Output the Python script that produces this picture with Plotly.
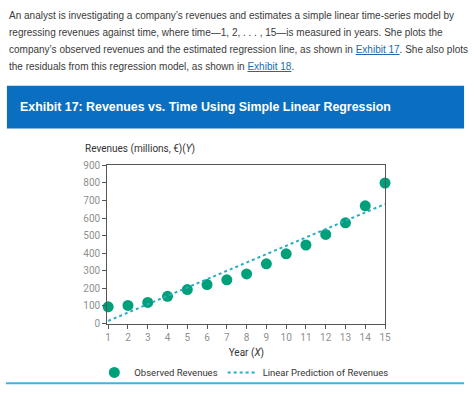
import plotly.graph_objects as go

W, H = 474, 394

years = list(range(1, 16))
revenues = [95, 103, 120, 155, 193, 222, 249, 282, 340, 397, 447, 507, 573, 670, 800]
pred_x = [1, 15]
pred_y = [15, 680]
y_ticks = [0, 100, 200, 300, 400, 500, 600, 700, 800, 900]

para_lines = [
    "An analyst is investigating a company\u2019s revenues and estimates a simple linear time-series model by",
    "regressing revenues against time, where time\u20141, 2, . . . , 15\u2014is measured in years. She plots the",
    "company\u2019s observed revenues and the estimated regression line, as shown in <span style='color:#2367b4'><u>Exhibit 17</u></span>. She also plots",
    "the residuals from this regression model, as shown in <span style='color:#2367b4'><u>Exhibit 18</u></span>.",
]
banner_title = "Exhibit 17: Revenues vs. Time Using Simple Linear Regression"

def px(x):
    return x / W

def py(y):
    return 1 - y / H

CH = "Roboto, Noto Sans, sans-serif"

fig = go.Figure()
fig.add_trace(go.Scatter(
    x=years, y=revenues, mode="markers", name="Observed Revenues",
    marker=dict(color="#00a07b", size=11, line=dict(width=0)),
    cliponaxis=False,
))
fig.add_trace(go.Scatter(
    x=pred_x, y=pred_y, mode="lines", name="Linear Prediction of Revenues",
    line=dict(color="#2aaac4", width=2, dash="dot"),
))

axis_font = dict(family=CH, size=10, color="#909090")
fig.update_layout(
    width=W, height=H,
    margin=dict(l=0, r=0, t=0, b=0),
    paper_bgcolor="white", plot_bgcolor="white",
    showlegend=True,
    legend=dict(
        orientation="h", x=0.52, xanchor="center", y=py(377), yanchor="middle",
        font=dict(family=CH, size=9.5, color="#333"),
        itemwidth=30, bgcolor="rgba(0,0,0,0)",
    ),
    xaxis=dict(
        domain=[px(107), px(390)], range=[0.95, 15.02],
        tickmode="array", tickvals=years, ticks="outside", ticklen=4, tickcolor="#555",
        showline=True, linecolor="#555", linewidth=1, mirror=True,
        showgrid=False, zeroline=False, tickfont=axis_font,
        title=dict(text="Year (<i>X</i>)", font=dict(family=CH, size=10, color="#333"), standoff=7),
    ),
    yaxis=dict(
        domain=[py(327), py(164)], range=[-2, 900],
        tickmode="array", tickvals=y_ticks, ticks="outside", ticklen=4, tickcolor="#555",
        showline=True, linecolor="#555", linewidth=1, mirror=True,
        showgrid=False, zeroline=False, tickfont=axis_font,
    ),
)

shapes = [
    dict(type="rect", xref="paper", yref="paper", x0=px(5), x1=px(470), y0=py(126), y1=py(82),
         fillcolor="#0b6fc1", line=dict(width=0), layer="below"),
    dict(type="line", xref="paper", yref="paper", x0=px(4), x1=px(470), y0=py(388), y1=py(388),
         line=dict(color="#3cb4e6", width=2)),
]
fig.update_layout(shapes=shapes)

annotations = []
line_y = [10, 27.5, 45, 62]
for t, yy in zip(para_lines, line_y):
    annotations.append(dict(
        text=t, xref="paper", yref="paper", x=px(5), y=py(yy), xanchor="left", yanchor="middle",
        showarrow=False, font=dict(family="Liberation Sans, Arial, sans-serif", size=10, color="#3a3a3a"),
    ))
annotations.append(dict(
    text="<b>" + banner_title + "</b>", xref="paper", yref="paper", x=px(16), y=py(104),
    xanchor="left", yanchor="middle", showarrow=False,
    font=dict(family="Liberation Sans, Arial, sans-serif", size=12.4, color="white"),
))
annotations.append(dict(
    text="Revenues (millions, \u20ac)(<i>Y</i>)", xref="paper", yref="paper", x=px(82), y=py(147),
    xanchor="left", yanchor="middle", showarrow=False,
    font=dict(family=CH, size=10, color="#333"),
))
fig.update_layout(annotations=annotations)

fig.write_html(
    "out.html",
    config={"displayModeBar": False, "staticPlot": True},
    post_script="document.body.style.margin='0';document.body.style.overflow='hidden';",
)
